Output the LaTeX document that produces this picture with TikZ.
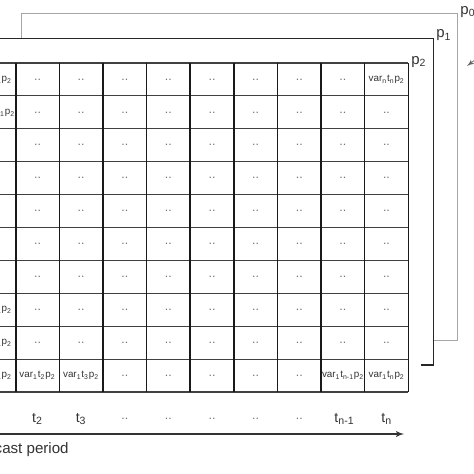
\documentclass[tikz,border=0pt]{standalone}
\usepackage{fontspec}
\setmainfont{Liberation Sans}
\usetikzlibrary{arrows}
\usetikzlibrary{positioning}
\tikzset{cell/.style = {font=\fontsize{5.6}{7}\selectfont, text=black!80, inner sep=0pt},
         dots/.style = {font=\fontsize{7}{8}\selectfont, text=black!55, inner sep=0pt},
         tlabel/.style = {font=\fontsize{8}{9}\selectfont, text=black!80, inner sep=0pt},
         plabel/.style = {font=\fontsize{8.5}{10}\selectfont, text=black!80, anchor=west, inner sep=1.5pt}}
\newcommand{\vtp}[2]{var\textsubscript{#1}t\textsubscript{#2}p\textsubscript{2}}

\begin{document}
\begin{tikzpicture}[x=0.02cm, y=-0.02cm]
      \useasboundingbox (0, 0) rectangle (474, 474);
      \clip (0, 0) rectangle (474, 474);

      % sheets behind
      \draw [gray!70, fill=white, line width=0.5pt] (21.7, 13.3) rectangle (457.5, 340.7);
      \draw [black!85, fill=white, line width=0.6pt] (-60, 38.3) rectangle (433.3, 365);
      \fill [white] (-60, 63) rectangle (421, 392);
      \node [plabel] (p0) at (457.5, 11.7) {p\textsubscript{0}};
      \node [plabel] (p1) at (433.3, 35.5) {p\textsubscript{1}};
      \node [plabel] (p2) at (408.3, 62) {p\textsubscript{2}};

      % grid
      \foreach \j in {0,...,10}
        \draw [black!75, line width=0.6pt] (-27.9, {63+32.9*\j}) -- (408.3, {63+32.9*\j});
      \foreach \i in {0,...,10}
        \draw [black!90, line width=0.9pt] ({-27.9+43.62*\i}, 63) -- ({-27.9+43.62*\i}, 392);

      \foreach \c in {1,...,8}
        \foreach \r in {1,...,9}
          \node [dots] (c-\r-\c) at ({-27.9+43.62*(\c+0.5)}, {63+32.9*(\r-0.5)}) {..};
      \foreach \r in {2,...,9}
        \node [dots] (c-\r-9) at ({-27.9+43.62*9.5}, {63+32.9*(\r-0.5)}) {..};
      \foreach \c in {3,...,7}
        \node [dots] (c-10-\c) at ({-27.9+43.62*(\c+0.5)}, {63+32.9*9.5}) {..};

      \node [cell] (c-1-0) at (-6.1, 79.5) {\vtp{n}{1}};
      \node [cell] (c-2-0) at (-6.1, 112.4) {\vtp{n-1}{1}};
      \node [cell] (c-8-0) at (-6.1, 309.8) {\vtp{3}{1}};
      \node [cell] (c-9-0) at (-6.1, 342.6) {\vtp{2}{1}};
      \node [cell] (c-10-0) at (-6.1, 375.5) {\vtp{1}{1}};
      \node [cell] (c-1-9) at (386.7, 79.5) {\vtp{n}{n}};
      \node [cell] (c-10-1) at (37.5, 375.5) {\vtp{1}{2}};
      \node [cell] (c-10-2) at (81.1, 375.5) {\vtp{1}{3}};
      \node [cell] (c-10-8) at (343.1, 375.5) {\vtp{1}{n-1}};
      \node [cell] (c-10-9) at (386.7, 375.5) {\vtp{1}{n}};

      % time axis
      \node [tlabel] (t2) at (37.5, 419) {t\textsubscript{2}};
      \node [tlabel] (t3) at (81.1, 419) {t\textsubscript{3}};
      \foreach \c in {3,...,7}
        \node [dots] (t-\c) at ({-27.9+43.62*(\c+0.5)}, 419) {..};
      \node [tlabel] (tn1) at (344.5, 419) {t\textsubscript{n-1}};
      \node [tlabel] (tn) at (386.7, 419) {t\textsubscript{n}};

      \coordinate (axis start) at (-10, 434);
      \coordinate (axis end) at (404, 434);
      \draw [-latex', black!80, line width=0.6pt] (axis start) -- (axis end);
      \node [tlabel, font=\fontsize{8.6}{10}\selectfont, anchor=east] (period) at (69, 450) {Forecast period};

      \coordinate (in start) at (480, 56);
      \coordinate (in end) at (467, 66);
      \draw [-latex', black!60] (in start) -- (in end);
    \end{tikzpicture}
\end{document}
